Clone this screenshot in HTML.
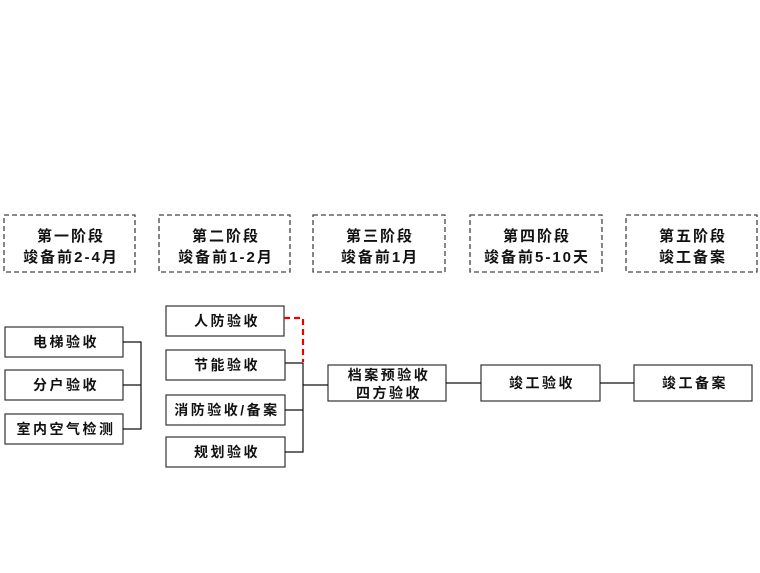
<!DOCTYPE html>
<html><head><meta charset="utf-8"><style>
body{margin:0;background:#fff;}
</style></head><body>
<svg width="760" height="568" xmlns="http://www.w3.org/2000/svg" style="font-family:'Liberation Sans','Noto Sans CJK SC',sans-serif;font-weight:bold">
<g fill="none" stroke="#444" stroke-width="1.3" stroke-dasharray="5,3">
<rect x="4" y="215" width="131" height="57"/>
<rect x="159" y="215" width="131" height="57"/>
<rect x="313" y="215" width="132" height="57"/>
<rect x="470" y="215" width="132" height="57"/>
<rect x="626" y="215" width="131" height="57"/>
</g>
<g font-size="15" fill="#111" text-anchor="middle" letter-spacing="2">
<text x="71" y="241">第一阶段</text><text x="71" y="262">竣备前2-4月</text>
<text x="226" y="241">第二阶段</text><text x="226" y="262">竣备前1-2月</text>
<text x="380" y="241">第三阶段</text><text x="380" y="262">竣备前1月</text>
<text x="537" y="241">第四阶段</text><text x="537" y="262">竣备前5-10天</text>
<text x="693" y="241">第五阶段</text><text x="693" y="262">竣工备案</text>
</g>
<g fill="#fff" stroke="#333" stroke-width="1.2">
<rect x="5" y="327" width="118" height="30"/>
<rect x="5" y="370" width="118" height="30"/>
<rect x="5" y="414" width="118" height="30"/>
<rect x="166" y="306" width="118" height="30"/>
<rect x="166" y="350" width="119" height="30"/>
<rect x="166" y="395" width="119" height="30"/>
<rect x="166" y="437" width="119" height="30"/>
<rect x="328" y="365" width="118" height="36"/>
<rect x="481" y="365" width="119" height="36"/>
<rect x="634" y="365" width="118" height="36"/>
</g>
<g fill="none" stroke="#111" stroke-width="1.2">
<path d="M123 342H141V429H123M123 385H141"/>
<path d="M285 363H303V452H285M285 410H303M303 385H328"/>
<path d="M446 383H481M600 383H634"/>
</g>
<path d="M284 318H303V362" fill="none" stroke="#e00" stroke-width="2.2" stroke-dasharray="6,4"/>
<g font-size="14" fill="#111" text-anchor="middle" letter-spacing="2.5">
<text x="66" y="347">电梯验收</text>
<text x="66" y="390">分户验收</text>
<text x="66" y="434">室内空气检测</text>
<text x="227" y="326">人防验收</text>
<text x="227" y="370">节能验收</text>
<text x="227" y="415">消防验收/备案</text>
<text x="227" y="457">规划验收</text>
<text x="389" y="380">档案预验收</text>
<text x="389" y="398">四方验收</text>
<text x="542" y="388">竣工验收</text>
<text x="695" y="388">竣工备案</text>
</g>
</svg>
</body></html>
